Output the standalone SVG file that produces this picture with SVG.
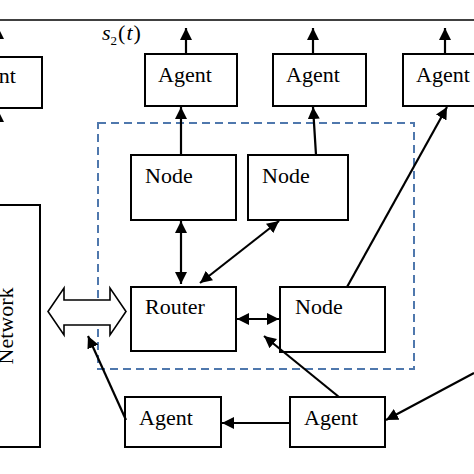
<svg xmlns="http://www.w3.org/2000/svg" width="474" height="474" viewBox="0 0 474 474">
<defs>
<marker id="ah" markerUnits="userSpaceOnUse" markerWidth="12" markerHeight="12" viewBox="0 0 12 12" refX="12" refY="6" orient="auto-start-reverse"><path d="M0,0 L12,6 L0,12 z" fill="#000"/></marker>
<style>
.box{fill:#fff;stroke:#000;stroke-width:2}
.lbl{font-family:"Liberation Serif","Times New Roman",serif;font-size:22px;fill:#000}
.c{stroke:#000;stroke-width:2.2;fill:none}
.a{marker-end:url(#ah)}
.b{marker-start:url(#ah);marker-end:url(#ah)}
</style>
</defs>
<rect width="474" height="474" fill="#fff"/>
<line x1="0" y1="20" x2="474" y2="20" stroke="#000" stroke-width="1.6"/>
<text x="102" y="40" class="lbl" font-size="21"><tspan font-style="italic">s</tspan><tspan font-size="13" dy="5">2</tspan><tspan dy="-5" dx="1">(</tspan><tspan font-style="italic" dx="1">t</tspan><tspan dx="1">)</tspan></text>
<rect x="98" y="123" width="316" height="246" fill="none" stroke="#4f78ad" stroke-width="2" stroke-dasharray="8,5"/>
<g id="agent-left"><rect class="box" x="-60" y="57" width="102" height="51"/><text class="lbl" x="-38" y="83">Agent</text></g>
<g id="agent1"><rect class="box" x="145" y="54" width="92" height="52"/><text class="lbl" x="158" y="82">Agent</text></g>
<g id="agent2"><rect class="box" x="273" y="54" width="93" height="52"/><text class="lbl" x="286" y="82">Agent</text></g>
<g id="agent3"><rect class="box" x="403" y="54" width="90" height="52"/><text class="lbl" x="416" y="82">Agent</text></g>
<g id="node1"><rect class="box" x="131" y="155" width="105" height="65"/><text class="lbl" x="145" y="183">Node</text></g>
<g id="node2"><rect class="box" x="248" y="155" width="100" height="65"/><text class="lbl" x="262" y="183">Node</text></g>
<g id="router"><rect class="box" x="131" y="287" width="105" height="64"/><text class="lbl" x="145" y="314">Router</text></g>
<g id="node3"><rect class="box" x="280" y="287" width="105" height="65"/><text class="lbl" x="295" y="314">Node</text></g>
<g id="network"><rect class="box" x="-60" y="205" width="100" height="242"/><text class="lbl" text-anchor="middle" transform="translate(13,326) rotate(-90)">Network</text></g>
<g id="agent4"><rect class="box" x="125" y="397" width="96" height="50"/><text class="lbl" x="139" y="425">Agent</text></g>
<g id="agent5"><rect class="box" x="290" y="397" width="95" height="50"/><text class="lbl" x="304" y="425">Agent</text></g>
<g id="connectors">
<polygon points="48,311.5 64,288 64,300 110,300 110,288 126,311.5 110,335 110,325 64,325 64,335" fill="#fff" stroke="#000" stroke-width="1.6"/>
<line class="c a" x1="-2" y1="57" x2="-2" y2="27"/>
<line class="c a" x1="-2" y1="140" x2="-2" y2="110"/>
<line class="c a" x1="186" y1="54" x2="186" y2="28"/>
<line class="c a" x1="313" y1="54" x2="313" y2="28"/>
<line class="c a" x1="445" y1="54" x2="445" y2="28"/>
<line class="c a" x1="181" y1="155" x2="181" y2="107"/>
<line class="c a" x1="316" y1="155" x2="313" y2="107"/>
<line class="c a" x1="347" y1="287" x2="447" y2="107"/>
<line class="c b" x1="181" y1="221" x2="181" y2="284"/>
<line class="c b" x1="200" y1="283" x2="279" y2="221"/>
<line class="c b" x1="237" y1="319" x2="279" y2="319"/>
<line class="c a" x1="339" y1="397" x2="264" y2="336"/>
<line class="c a" x1="126" y1="420" x2="88" y2="336"/>
<line class="c a" x1="290" y1="423" x2="222" y2="423"/>
<line class="c a" x1="474" y1="373" x2="386" y2="420"/>
</g>
</svg>
